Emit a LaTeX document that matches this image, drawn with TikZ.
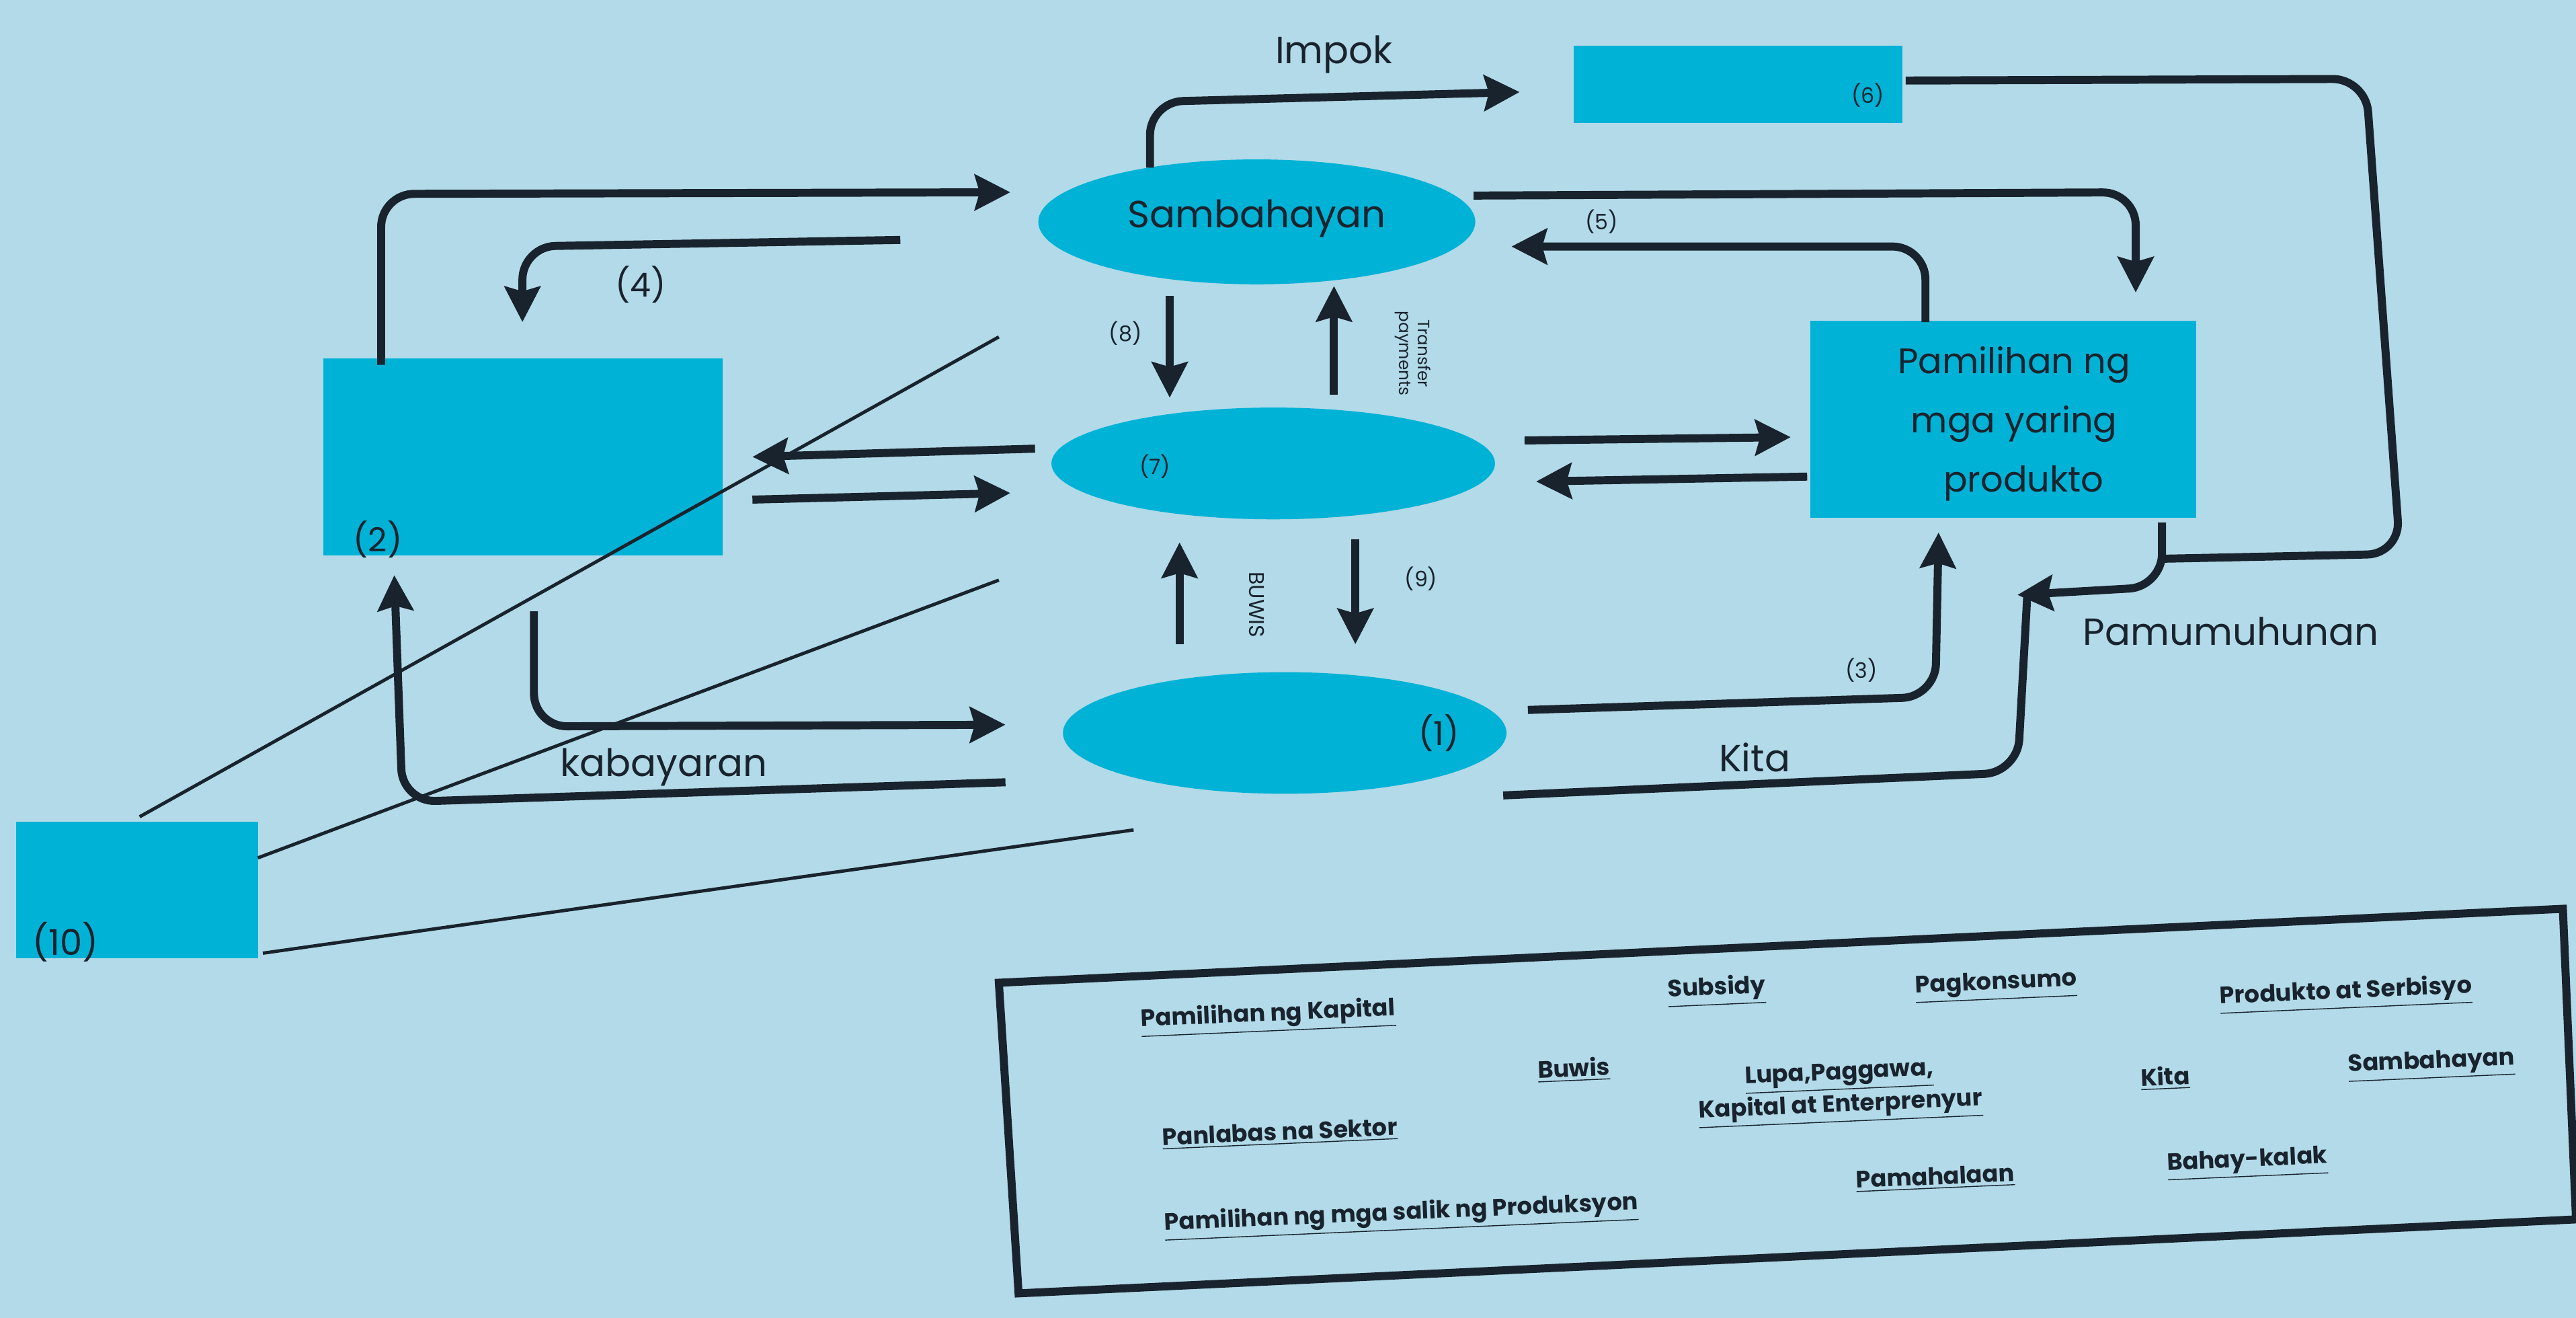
\documentclass[tikz,border=0pt]{standalone}
\usepackage{fontspec}
\setmainfont{Poppins}
\usetikzlibrary{arrows.meta}
\definecolor{bg}{RGB}{178,218,232}
\definecolor{cy}{RGB}{0,178,214}
\definecolor{ink}{RGB}{25,35,45}
\begin{document}
\begin{tikzpicture}[x=0.024439cm,y=-0.024439cm,
  shp/.style={fill=cy,draw=none},
  arr/.style={draw=ink,line width=3.4pt,rounded corners=14,-{Stealth[length=15pt,width=15pt,inset=2pt]}},
  ln/.style={draw=ink,line width=3.4pt,rounded corners=14},
  thin/.style={draw=ink,line width=1.4pt},
  lbl/.style={text=ink,font=\fontsize{16}{18}\selectfont},
  sm/.style={text=ink,font=\fontsize{9}{10}\selectfont},
  leg/.style={text=ink,font=\bfseries\fontsize{10}{11}\selectfont,rotate=2.5,align=center}]
\fill[bg] (0,0) rectangle (1568,802);
\useasboundingbox (0,0) rectangle (1568,802);
% shapes
\fill[shp] (765,135) ellipse [x radius=133,y radius=38];
\node[lbl] (samb) at (765,133) {Sambahayan};
\fill[shp] (775,282) ellipse [x radius=135,y radius=34];
\node[sm] (n7) at (703,284) {(7)};
\fill[shp] (782,446) ellipse [x radius=135,y radius=37];
\node[lbl,font=\fontsize{14}{16}\selectfont] (n1) at (876,446) {(1)};
\fill[shp] (197,218) rectangle (440,338);
\node[lbl,font=\fontsize{14}{16}\selectfont] (n2) at (230,328) {(2)};
\fill[shp] (1102,195) rectangle (1337,315);
\node[lbl,align=center,font=\fontsize{15}{25}\selectfont] (pam) at (1226,258) {Pamilihan ng\\mga yaring\\\ \ produkto};
\fill[shp] (958,28) rectangle (1158,75);
\node[sm] (n6) at (1137,58) {(6)};
\fill[shp] (10,500) rectangle (157,583);
\node[lbl,font=\fontsize{15}{16}\selectfont] (n10) at (40,573) {(10)};
% thin lines
\draw[thin] (85,497) -- (608,205);
\draw[thin] (157,522) -- (608,353);
\draw[thin] (160,580) -- (690,505);
% arrows
\draw[arr] (700,102) -- (700,62) -- (925,56);
\node[lbl] (impok) at (812,33) {Impok};
\draw[arr] (232,222) -- (232,118) -- (615,117);
\draw[arr] (548,146) -- (318,150) -- (318,196);
\node[lbl,font=\fontsize{14}{16}\selectfont] (n4) at (390,173) {(4)};
\draw[arr] (897,119) -- (1300,117) -- (1300,178);
\draw[arr] (1172,196) -- (1172,150) -- (920,150);
\node[sm] (n5) at (975,135) {(5)};
\draw[ln] (1160,49) -- (1440,48) -- (1461,337) -- (1316,340);
\draw[arr] (1316,318) -- (1316,357) -- (1228,362);
\draw[arr] (712,180) -- (712,242);
\node[sm] (n8) at (685,203) {(8)};
\draw[arr] (812,240) -- (812,174);
\node[sm,rotate=-90,align=center,font=\fontsize{7}{8}\selectfont] (tp) at (860,215) {Transfer\\payments};
\draw[arr] (630,273) -- (458,278);
\draw[arr] (458,304) -- (615,300);
\draw[arr] (928,268) -- (1090,266);
\draw[arr] (1100,290) -- (935,293);
\draw[arr] (718,392) -- (718,330);
\node[sm,rotate=-90] (buwis) at (765,368) {BUWIS};
\draw[arr] (825,328) -- (825,392);
\node[sm] (n9) at (865,352) {(9)};
\draw[arr] (930,432) -- (1178,424) -- (1180,324);
\node[sm] (n3) at (1133,408) {(3)};
\draw[ln] (915,484) -- (1228,470) -- (1234,362);
\node[lbl] (kita) at (1068,461) {Kita};
\node[lbl] (pamu) at (1358,384) {Pamumuhunan};
\draw[arr] (325,372) -- (325,442) -- (612,441);
\node[lbl] (kab) at (404,467) {kabayaran};
\draw[arr] (612,476) -- (245,488) -- (240,350);
% legend
\draw[ink,line width=3.4pt] (608,598) -- (1560,553) -- (1568,742) -- (620,787) -- cycle;
\node[leg] (l1) at (772,619) {\underline{Pamilihan ng Kapital}};
\node[leg] (l2) at (1045,603) {\underline{Subsidy}};
\node[leg] (l3) at (1215,600) {\underline{Pagkonsumo}};
\node[leg] (l4) at (1428,605) {\underline{Produkto at Serbisyo}};
\node[leg] (l5) at (958,651) {\underline{Buwis}};
\node[leg] (l6) at (1120,665) {\underline{Lupa,Paggawa,}\\\underline{Kapital at Enterprenyur}};
\node[leg] (l7) at (1318,656) {\underline{Kita}};
\node[leg] (l8) at (1480,648) {\underline{Sambahayan}};
\node[leg] (l9) at (779,690) {\underline{Panlabas na Sektor}};
\node[leg] (l10) at (1178,717) {\underline{Pamahalaan}};
\node[leg] (l11) at (1368,708) {\underline{Bahay-kalak}};
\node[leg] (l12) at (853,740) {\underline{Pamilihan ng mga salik ng Produksyon}};
\end{tikzpicture}
\end{document}
